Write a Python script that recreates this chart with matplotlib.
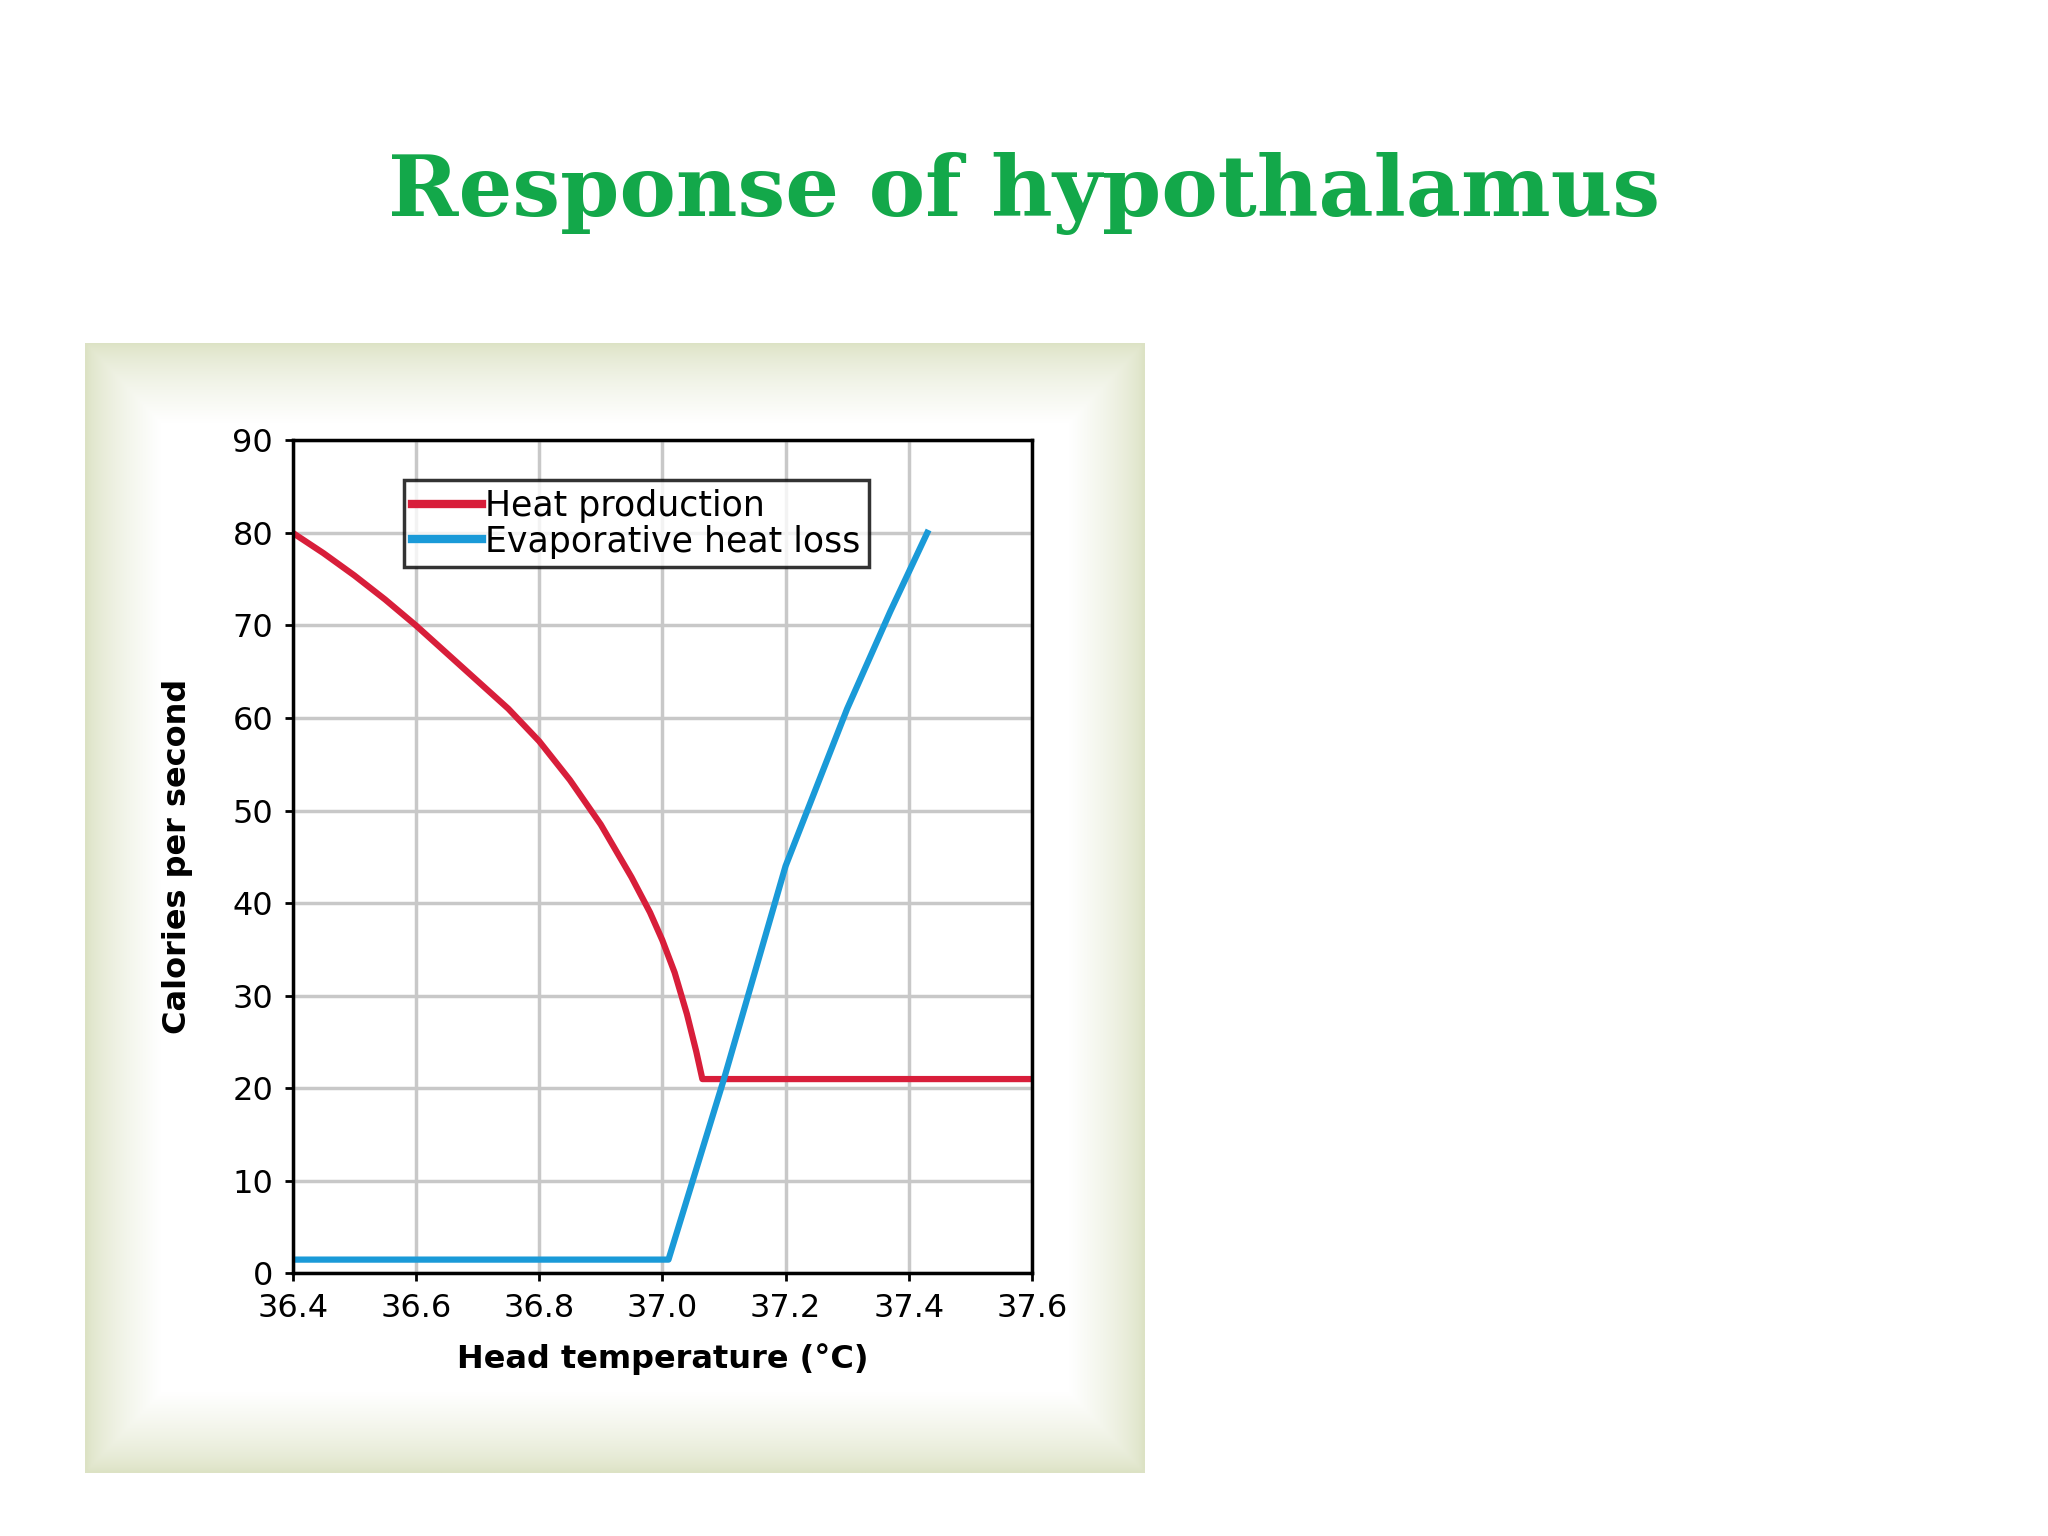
import numpy as np
import matplotlib.pyplot as plt

# data
heat_temp = [36.4, 36.45, 36.5, 36.55, 36.6, 36.65, 36.7, 36.75, 36.8, 36.85, 36.9,
             36.95, 36.98, 37.0, 37.02, 37.04, 37.055, 37.065, 37.6]
heat_val = [80, 77.8, 75.4, 72.8, 70.0, 67.0, 64.0, 61.0, 57.5, 53.3, 48.5,
            42.8, 39.0, 36.0, 32.5, 28.0, 24.0, 21, 21]
evap_temp = [36.4, 37.01, 37.1, 37.2, 37.3, 37.37, 37.43]
evap_val = [1.5, 1.5, 21, 44, 61, 71.5, 80]
x_ticks = [36.4, 36.6, 36.8, 37.0, 37.2, 37.4, 37.6]
y_ticks = list(range(0, 91, 10))

fig = plt.figure(figsize=(20.48, 15.36), dpi=100)
fig.patch.set_facecolor('white')

fig.text(0.5, 0.874, 'Response of hypothalamus', ha='center', va='center',
         fontsize=61, fontweight='bold', family='DejaVu Serif', color='#13a84a')

# framed panel with soft beige edge
bg = fig.add_axes([0.0415, 0.041, 0.5172, 0.736])
h, w = 400, 400
yy, xx = np.mgrid[0:h, 0:w]
d = np.minimum(np.minimum(xx, w - 1 - xx), np.minimum(yy, h - 1 - yy)) / 28.0
t = np.clip(d, 0, 1) ** 0.7
edge = np.array([220, 226, 196]) / 255
img = edge[None, None, :] * (1 - t[..., None]) + t[..., None]
bg.imshow(img, aspect='auto', interpolation='bilinear')
bg.set_axis_off()

ax = fig.add_axes([0.1429, 0.1709, 0.361, 0.5425])
ax.set_facecolor('white')
ax.set_xlim(36.4, 37.6)
ax.set_ylim(0, 90)
ax.set_xticks(x_ticks)
ax.set_xticklabels([f'{v:.1f}' for v in x_ticks])
ax.set_yticks(y_ticks)
ax.grid(True, color='#c8c8c8', linewidth=2.5)
ax.set_axisbelow(True)
for s in ax.spines.values():
    s.set_linewidth(2.5)
ax.tick_params(labelsize=23, width=2, length=6, colors='black', pad=8)

ax.plot(heat_temp, heat_val, color='#d81e3a', linewidth=4.5, label='Heat production')
ax.plot(evap_temp, evap_val, color='#1a9ad8', linewidth=4.5, label='Evaporative heat loss')

ax.set_xlabel('Head temperature (°C)', fontsize=23, fontweight='bold', labelpad=14)
ax.set_ylabel('Calories per second', fontsize=23, fontweight='bold', labelpad=28)

leg = ax.legend(loc='upper left', bbox_to_anchor=(0.15, 0.952), fontsize=25,
                frameon=True, fancybox=False, handlelength=2.0,
                handletextpad=0.1, borderpad=0.25, labelspacing=0.05,
                borderaxespad=0)
leg.get_frame().set_edgecolor('black')
leg.get_frame().set_linewidth(2.5)
for ln in leg.get_lines():
    ln.set_linewidth(6)

fig.savefig('out.png', dpi=100)
